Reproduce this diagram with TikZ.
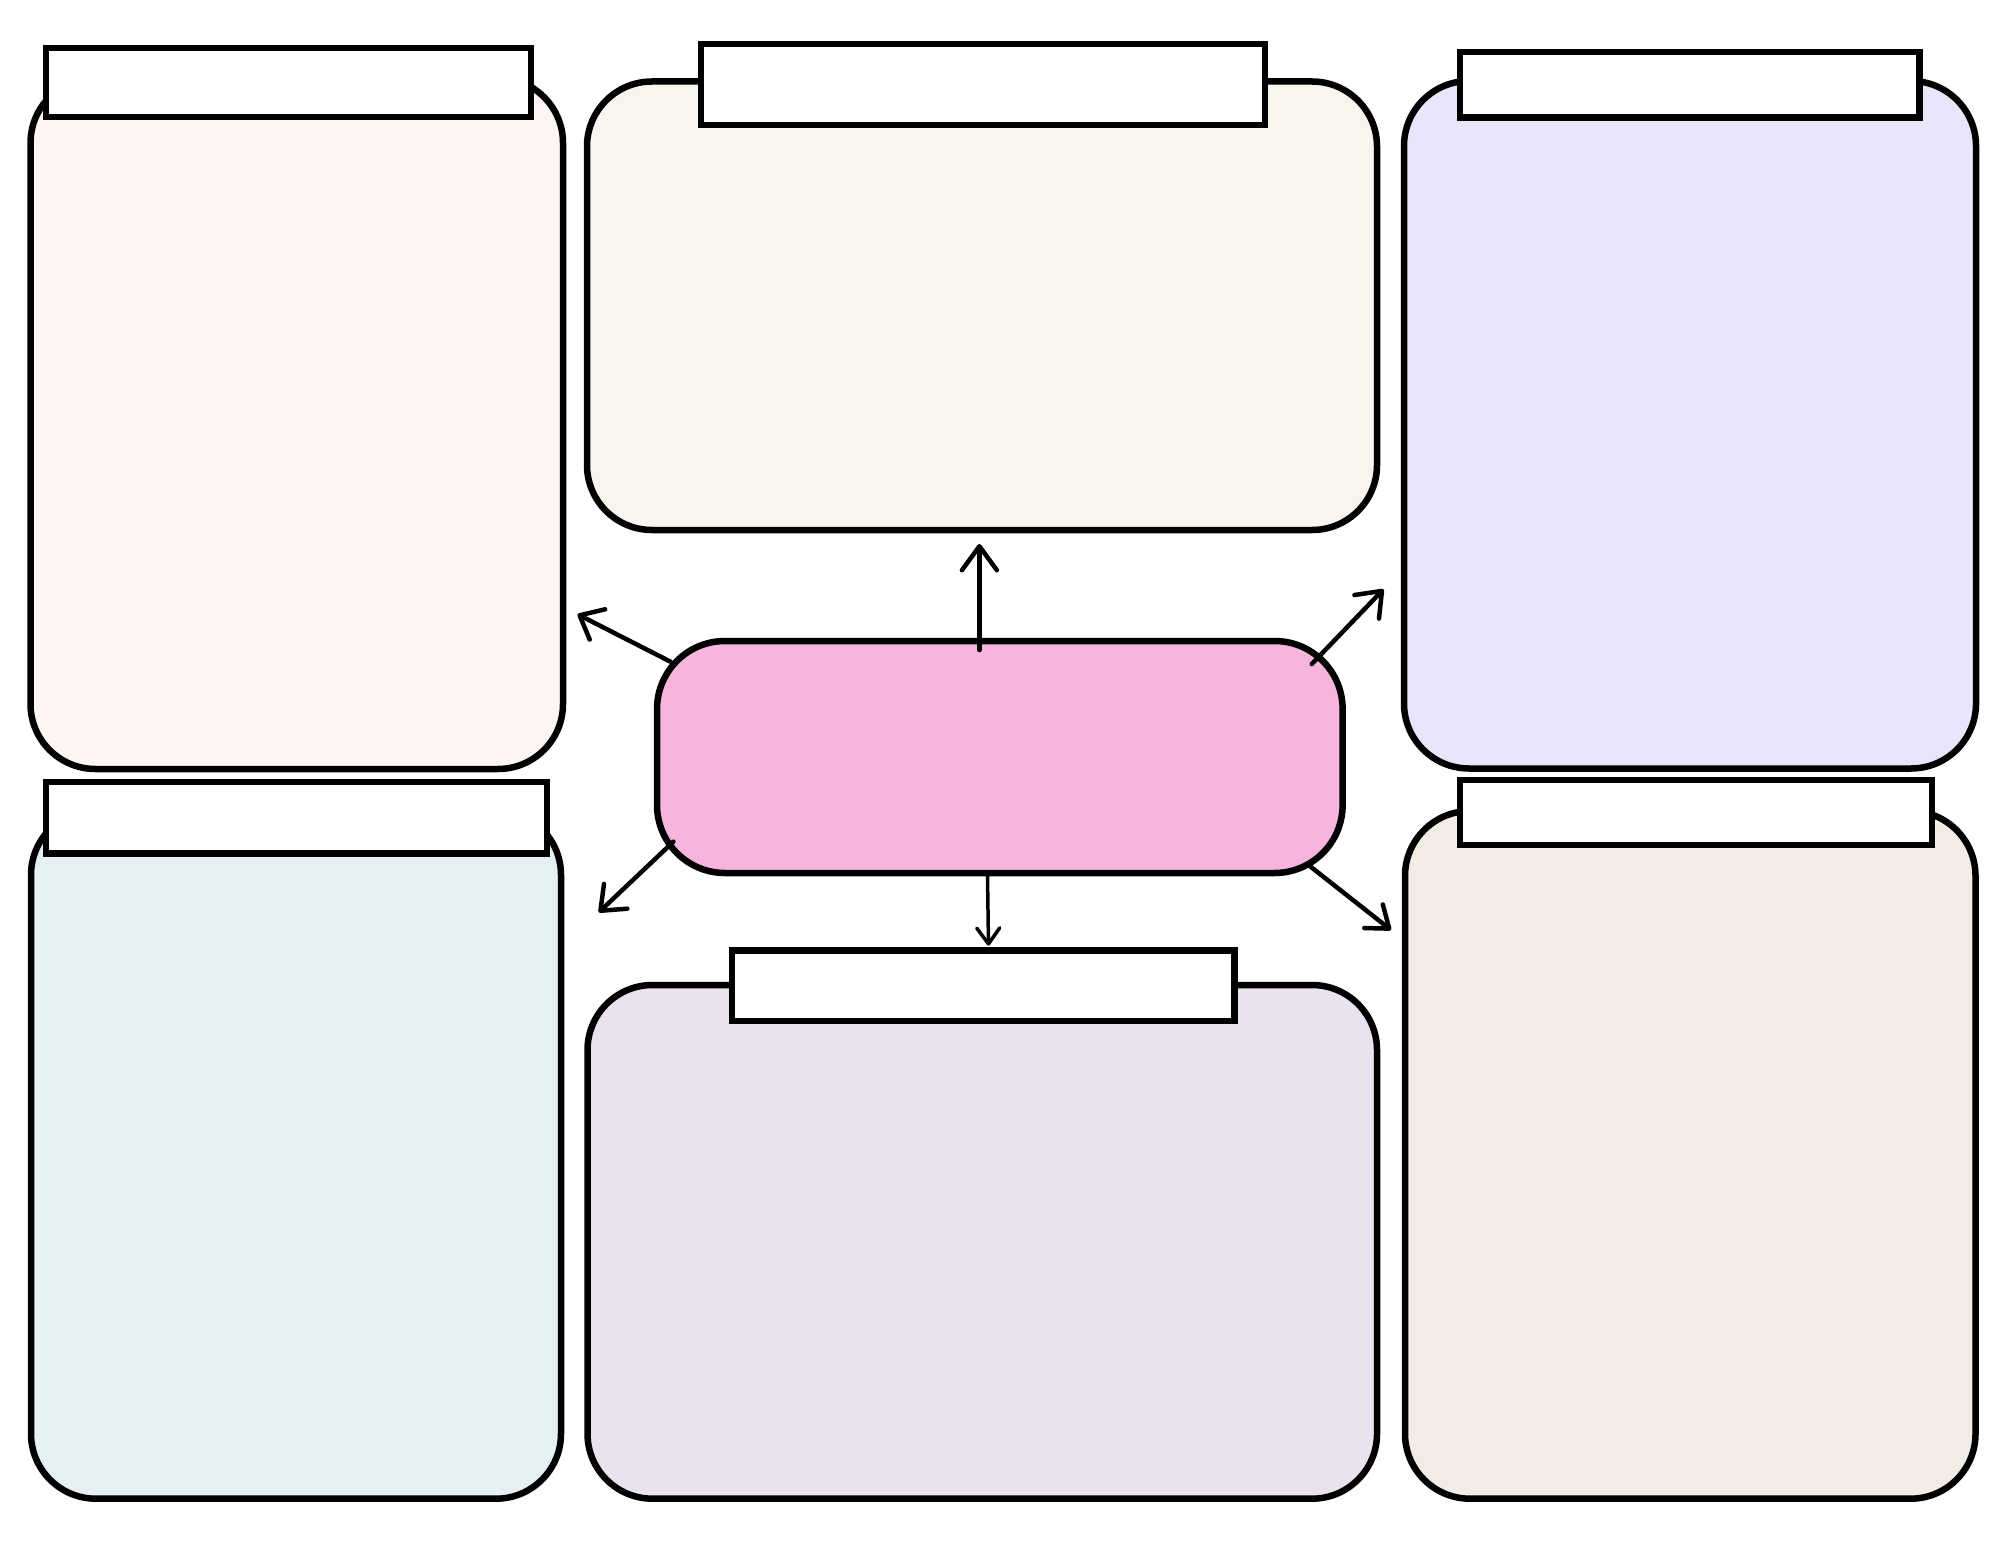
\documentclass[tikz,border=0pt]{standalone}
\usetikzlibrary{arrows.meta}
\definecolor{cTL}{RGB}{254,245,243}
\definecolor{cTC}{RGB}{247,245,238}
\definecolor{cTR}{RGB}{232,230,251}
\definecolor{cBL}{RGB}{228,240,241}
\definecolor{cBC}{RGB}{234,226,239}
\definecolor{cBR}{RGB}{243,235,229}
\definecolor{cMid}{RGB}{247,181,221}
\begin{document}
\begin{tikzpicture}[x=0.5pt,y=-0.5pt,
  panel/.style={draw=black, line width=3.25pt, rounded corners=32.5pt, inner sep=0pt, outer sep=0pt},
  header/.style={draw=black, fill=white, line width=3.25pt, inner sep=0pt, outer sep=0pt},
  link/.style={line width=2.25pt, line cap=round, line join=round, -{Straight Barb[length=11pt,width=17pt,round]}},
  thinlink/.style={line width=1.75pt, line cap=round, line join=round, -{Straight Barb[length=8pt,width=11.5pt,round]}}]
\useasboundingbox (0,0) rectangle (2000,1545);
\fill[white] (0,0) rectangle (2000,1545);

% panels
\node[panel, fill=cTL, minimum width=266.25pt, minimum height=345.5pt] (tl) at (296.75,423.5) {};
\node[panel, fill=cTC, minimum width=395pt, minimum height=224.25pt] (tc) at (982,305.75) {};
\node[panel, fill=cTR, minimum width=286pt, minimum height=343.75pt] (tr) at (1690,424.75) {};
\node[panel, fill=cBL, minimum width=265pt, minimum height=344.35pt] (bl) at (296,1154.35) {};
\node[panel, fill=cBC, minimum width=394.75pt, minimum height=256.85pt] (bc) at (982.25,1241.85) {};
\node[panel, fill=cBR, minimum width=285.25pt, minimum height=343.85pt] (br) at (1690.25,1154.85) {};

% headers
\node[header, minimum width=242.5pt, minimum height=34.5pt] (tlh) at (288.5,82.5) {};
\node[header, minimum width=282pt, minimum height=40.5pt] (tch) at (983,84.5) {};
\node[header, minimum width=229.75pt, minimum height=32.75pt] (trh) at (1689.75,84.75) {};
\node[header, minimum width=250.5pt, minimum height=35.75pt] (blh) at (296.5,817.75) {};
\node[header, minimum width=251.25pt, minimum height=35.15pt] (bch) at (983.25,985.85) {};
\node[header, minimum width=236pt, minimum height=32.5pt] (brh) at (1696,812.5) {};

% centre
\node[panel, fill=cMid, rounded corners=34pt, minimum width=342.8pt, minimum height=116pt] (mid) at (999.8,757) {};

% arrow ends
\coordinate (upS) at (979.4,650);
\coordinate (upE) at (979.4,544);
\coordinate (ulS) at (670.5,661.7);
\coordinate (ulE) at (577.6,614.3);
\coordinate (urS) at (1311.8,664);
\coordinate (urE) at (1383.5,589.3);
\coordinate (llS) at (673.4,841.7);
\coordinate (llE) at (598.8,912.3);
\coordinate (lrS) at (1310.6,866.7);
\coordinate (lrE) at (1391,930);
\coordinate (dnS) at (987.5,876);
\coordinate (dnE) at (988.5,945.7);

\draw[link, -{Straight Barb[length=12pt,width=17.5pt,round]}] (upS) -- (upE);
\draw[link, -{Straight Barb[length=10pt,width=17pt,round]}] (ulS) -- (ulE);
\draw[link] (urS) -- (urE);
\draw[link, -{Straight Barb[length=10.5pt,width=17pt,round]}] (llS) -- (llE);
\draw[link, -{Straight Barb[length=10pt,width=15pt,round]}] (lrS) -- (lrE);
\draw[thinlink] (dnS) -- (dnE);
\end{tikzpicture}
\end{document}
